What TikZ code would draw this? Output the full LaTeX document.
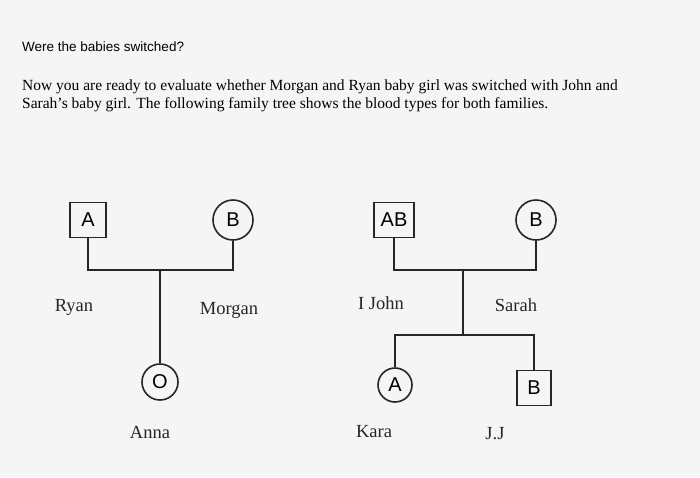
\documentclass[tikz,border=0pt]{standalone}
\usepackage{fontspec}
\setmainfont{Liberation Serif}
\setsansfont{Liberation Sans}
\begin{document}
\begin{tikzpicture}[x=1pt,y=-1pt,
  line/.style={line width=2.2pt,draw=black!85},
  sq/.style={draw=black!85,line width=1.6pt,minimum width=#1,minimum height=35pt,inner sep=0pt,font=\sffamily\fontsize{20}{22}\selectfont},
  cir/.style={circle,draw=black!85,line width=1.6pt,minimum size=#1,inner sep=0pt,font=\sffamily\fontsize{20}{22}\selectfont},
  lab/.style={font=\fontsize{18.5}{20}\selectfont,text=black!85}]
\fill[black!4] (0,0) rectangle (700,477);
\useasboundingbox (0,0) rectangle (700,477);
\node[anchor=west,font=\sffamily\fontsize{13.5}{15}\selectfont,inner sep=0pt] (t) at (22,47) {Were the babies switched?};
\node[anchor=north west,align=left,font=\fontsize{15.5}{18}\selectfont,inner sep=0pt] (p) at (22,80) {Now you are ready to evaluate whether Morgan and Ryan baby girl was switched with John and\\Sarah's baby girl. The following family tree shows the blood types for both families.};
% family 1
\node[sq=36pt] (A) at (88,220) {A};
\node[cir=40pt] (B1) at (233,220) {B};
\node[cir=36pt] (O) at (160,382) {O};
\coordinate (c1) at (88,270); \coordinate (c2) at (233,270); \coordinate (m1) at (160,270);
\draw[line] (A.south) -- (c1) -- (c2) -- (B1.south);
\draw[line] (m1) -- (O.north);
\node[lab] (ryan) at (74,307) {Ryan};
\node[lab] (morgan) at (229,310) {Morgan};
\node[lab] (anna) at (150,432) {Anna};
% family 2
\node[sq=40pt] (AB) at (394,220) {AB};
\node[cir=40pt] (B2) at (536,220) {B};
\node[cir=34pt] (Ak) at (395,385) {A};
\node[sq=34pt] (Bj) at (534,388) {B};
\coordinate (d1) at (394,270); \coordinate (d2) at (536,270); \coordinate (m2) at (463,270);
\coordinate (m3) at (463,335); \coordinate (e1) at (395,335); \coordinate (e2) at (534,335);
\draw[line] (AB.south) -- (d1) -- (d2) -- (B2.south);
\draw[line] (m2) -- (m3);
\draw[line] (Ak.north) -- (e1) -- (e2) -- (Bj.north);
\node[lab] (john) at (381,303) {I\ John};
\node[lab] (sarah) at (516,305) {Sarah};
\node[lab] (kara) at (374,432) {Kara};
\node[lab] (jj) at (495,434) {J.J};
\end{tikzpicture}
\end{document}
